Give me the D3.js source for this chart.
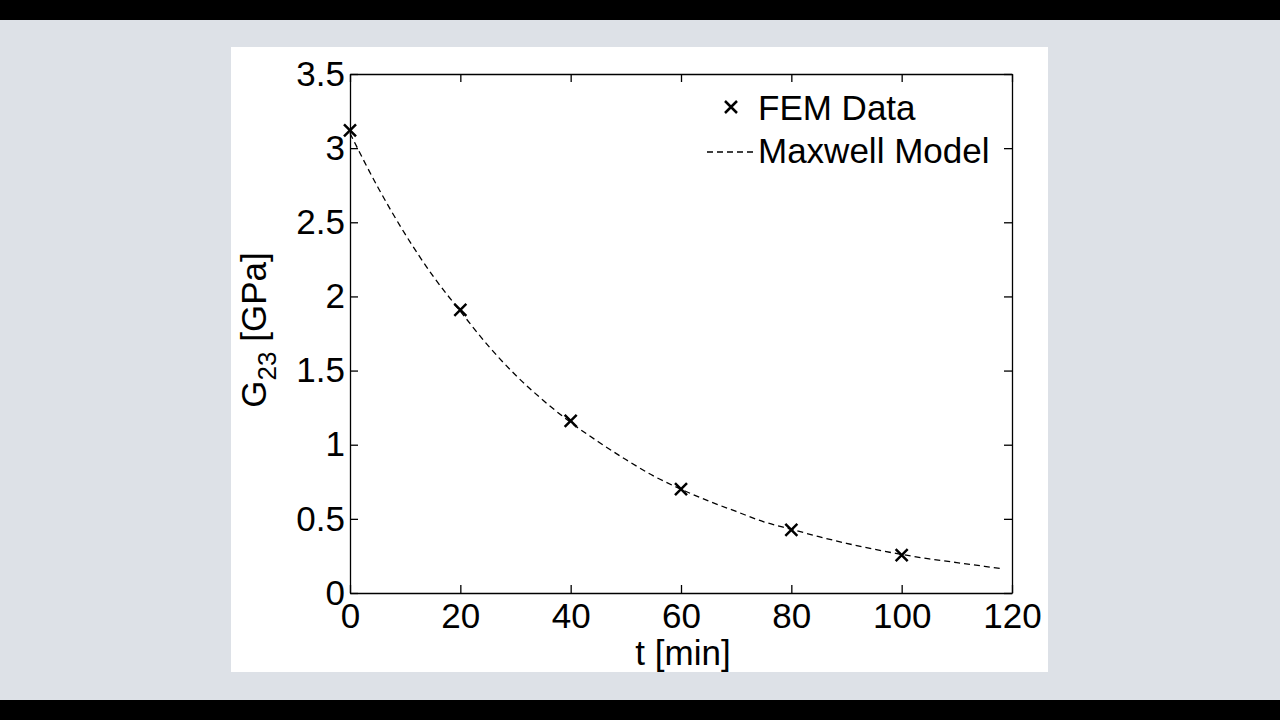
<!DOCTYPE html><html><head><meta charset="utf-8">
<script src="https://cdn.jsdelivr.net/npm/d3@7"></script>
<style>body{margin:0;background:#dde1e7;}text{font-family:"Liberation Sans",Arial,sans-serif;}</style></head><body>
<svg id="c" width="1280" height="720"></svg>
<script>
const femT=[0,20,40,60,80,100];
const femG=[3.12,1.91,1.16,0.70,0.425,0.256];
const modelT=[0,5,10,15,20,25,30,35,40,45,50,55,60,65,70,75,80,85,90,95,100,105,110,115,118];
const modelG=[3.10,2.74,2.42,2.14,1.90,1.67,1.47,1.30,1.15,1.02,0.90,0.79,0.70,0.62,0.55,0.48,0.43,0.38,0.335,0.295,0.26,0.23,0.205,0.18,0.165];
const xTicks=[0,20,40,60,80,100,120];
const yTicks=[0,0.5,1,1.5,2,2.5,3,3.5];
const svg=d3.select("#c");
svg.append("rect").attr("width",1280).attr("height",20).attr("fill","#000");
svg.append("rect").attr("y",700).attr("width",1280).attr("height",20).attr("fill","#000");
svg.append("rect").attr("x",231).attr("y",47).attr("width",817).attr("height",625).attr("fill","#fff");
const L=350,R=1012,T=74,B=593;
const x=d3.scaleLinear().domain([0,120]).range([L,R]);
const y=d3.scaleLinear().domain([0,3.5]).range([B,T]);
const g=svg.append("g");
const fs="35px";
g.append("g").attr("transform",`translate(0,${B})`).call(d3.axisBottom(x).tickValues(xTicks).tickSizeInner(-8).tickSizeOuter(0).tickPadding(10).tickFormat(d3.format("d")));
g.append("g").attr("transform",`translate(0,${T})`).call(d3.axisTop(x).tickValues(xTicks).tickSizeInner(-8).tickSizeOuter(0).tickFormat(""));
g.append("g").attr("transform",`translate(${L},0)`).call(d3.axisLeft(y).tickValues(yTicks).tickSizeInner(-8).tickSizeOuter(0).tickPadding(5).tickFormat(d=>String(d)));
g.append("g").attr("transform",`translate(${R},0)`).call(d3.axisRight(y).tickValues(yTicks).tickSizeInner(-8).tickSizeOuter(0).tickFormat(""));
g.selectAll(".domain,.tick line").attr("stroke","#000").attr("stroke-width",1.3);
g.selectAll(".tick text").attr("font-size",fs).attr("fill","#000").style("font-family","Liberation Sans, Arial");
svg.append("path").datum(modelT.map((t,i)=>[t,modelG[i]])).attr("d",d3.line().x(d=>x(d[0])).y(d=>y(d[1])).curve(d3.curveMonotoneX))
 .attr("fill","none").attr("stroke","#000").attr("stroke-width",1.3).attr("stroke-dasharray","6,4");
const cross=(sel,cx,cy)=>sel.append("path").attr("d",`M${cx-6},${cy-6}L${cx+6},${cy+6}M${cx-6},${cy+6}L${cx+6},${cy-6}`).attr("stroke","#000").attr("stroke-width",2.5);
femT.forEach((t,i)=>cross(svg,x(t),y(femG[i])));
cross(svg,731,107);
svg.append("text").attr("x",758).attr("y",120).attr("font-size",fs).text("FEM Data");
svg.append("line").attr("x1",707).attr("x2",755).attr("y1",152).attr("y2",152).attr("stroke","#000").attr("stroke-width",1.3).attr("stroke-dasharray","6,4");
svg.append("text").attr("x",758).attr("y",163).attr("font-size",fs).text("Maxwell Model");
svg.append("text").attr("x",683).attr("y",665).attr("text-anchor","middle").attr("font-size",fs).text("t [min]");
const yl=svg.append("text").attr("transform","translate(266,330) rotate(-90)").attr("text-anchor","middle").attr("font-size",fs);
yl.append("tspan").text("G");
yl.append("tspan").attr("font-size","26px").attr("dy",10).text("23");
yl.append("tspan").attr("dy",-10).text(" [GPa]");
</script></body></html>
